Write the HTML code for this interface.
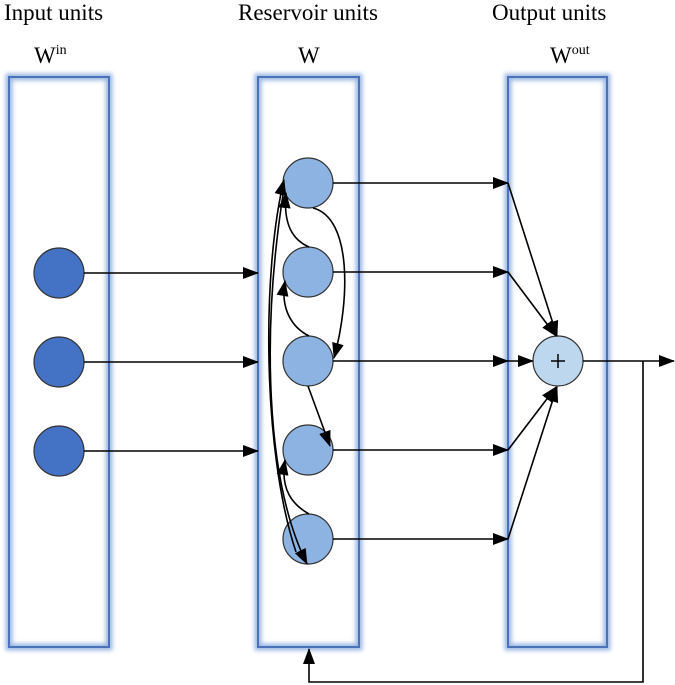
<!DOCTYPE html>
<html><head><style>
html,body{margin:0;padding:0;background:#fff;}
svg{display:block;}
text{font-family:"Liberation Serif",serif;fill:#000;}
</style></head><body>
<svg width="675" height="685" viewBox="0 0 675 685" xmlns="http://www.w3.org/2000/svg">
<defs>
<marker id="a" markerWidth="16" markerHeight="12" refX="15" refY="6" orient="auto" markerUnits="userSpaceOnUse">
<path d="M0,0 L16,6 L0,12 Z" fill="#000"/></marker>
<filter id="g" x="-20%" y="-5%" width="140%" height="110%"><feGaussianBlur stdDeviation="2"/></filter>
</defs>
<text x="4" y="20" font-size="23">Input units</text>
<text x="238" y="20" font-size="23">Reservoir units</text>
<text x="492" y="20" font-size="23">Output units</text>
<text x="34" y="63" font-size="23">W<tspan font-size="14" dy="-9">in</tspan></text>
<text x="298" y="63" font-size="23">W</text>
<text x="550" y="63" font-size="23">W<tspan font-size="14" dy="-9">out</tspan></text>

<g fill="none">
<rect x="9" y="77" width="100" height="570" stroke="#9db8e3" stroke-width="7" filter="url(#g)"/>
<rect x="258" y="77" width="101" height="570" stroke="#9db8e3" stroke-width="7" filter="url(#g)"/>
<rect x="508" y="77" width="99" height="570" stroke="#9db8e3" stroke-width="7" filter="url(#g)"/>
<rect x="9" y="77" width="100" height="570" stroke="#4a72b8" stroke-width="2"/>
<rect x="258" y="77" width="101" height="570" stroke="#4a72b8" stroke-width="2"/>
<rect x="508" y="77" width="99" height="570" stroke="#4a72b8" stroke-width="2"/>
</g>

<g stroke="#333" stroke-width="1.2">
<circle cx="59" cy="273" r="25" fill="#4472c4"/>
<circle cx="59" cy="362" r="25" fill="#4472c4"/>
<circle cx="59" cy="451" r="25" fill="#4472c4"/>
<circle cx="308" cy="183" r="25" fill="#8db3e2"/>
<circle cx="308" cy="272" r="25" fill="#8db3e2"/>
<circle cx="308" cy="361" r="25" fill="#8db3e2"/>
<circle cx="308" cy="450" r="25" fill="#8db3e2"/>
<circle cx="308" cy="539" r="25" fill="#8db3e2"/>
<circle cx="558" cy="361" r="25" fill="#bdd7ee"/>
</g>
<path d="M551,361 H565 M558,354 V368" stroke="#000" stroke-width="1.5"/>

<g stroke="#000" stroke-width="1.6" fill="none">
<line x1="84" y1="273" x2="258" y2="273" marker-end="url(#a)"/>
<line x1="84" y1="362" x2="258" y2="362" marker-end="url(#a)"/>
<line x1="84" y1="451" x2="258" y2="451" marker-end="url(#a)"/>
<line x1="333" y1="183" x2="508" y2="183" marker-end="url(#a)"/>
<line x1="333" y1="272" x2="508" y2="272" marker-end="url(#a)"/>
<line x1="333" y1="361" x2="508" y2="361" marker-end="url(#a)"/>
<line x1="333" y1="450" x2="508" y2="450" marker-end="url(#a)"/>
<line x1="333" y1="539" x2="508" y2="539" marker-end="url(#a)"/>
<line x1="508" y1="183" x2="557" y2="336" marker-end="url(#a)"/>
<line x1="508" y1="272" x2="556" y2="336" marker-end="url(#a)"/>
<line x1="508" y1="361" x2="533" y2="361" marker-end="url(#a)"/>
<line x1="508" y1="450" x2="556" y2="387" marker-end="url(#a)"/>
<line x1="508" y1="539" x2="557" y2="387" marker-end="url(#a)"/>
<line x1="583" y1="361" x2="674" y2="361" marker-end="url(#a)"/>
<polyline points="643,361 643,682 309,682 309,649" marker-end="url(#a)"/>
<path d="M296,552 C262,450 262,270 284,180" marker-end="url(#a)"/>
<path d="M283,195 C262,330 265,480 307,564" marker-end="url(#a)"/>
<path d="M309,247 C293,240 283,225 286,193" marker-end="url(#a)"/>
<path d="M309,336 C293,328 280,310 285,281" marker-end="url(#a)"/>
<path d="M313,208 C352,218 350,300 334,358" marker-end="url(#a)"/>
<line x1="308" y1="386" x2="330" y2="446" marker-end="url(#a)"/>
<path d="M309,514 C293,505 280,490 285,460" marker-end="url(#a)"/>
</g>
</svg>
</body></html>
